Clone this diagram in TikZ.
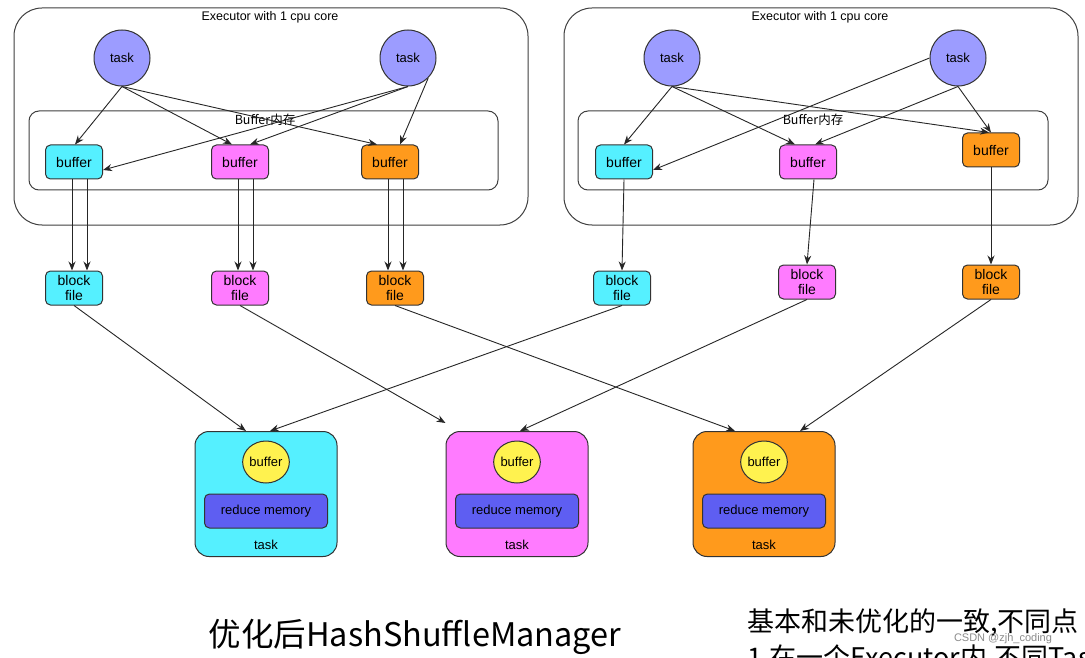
\documentclass[tikz,border=0pt]{standalone}
\usepackage{fontspec}
\setmainfont{Liberation Sans}
\newfontfamily\cjk{Noto Sans CJK SC}
\usetikzlibrary{arrows.meta,positioning,shapes.geometric}
\definecolor{bcyan}{HTML}{55F0FF}
\definecolor{bmag}{HTML}{FF7BFF}
\definecolor{borg}{HTML}{FF9A1C}
\definecolor{tpurple}{HTML}{9C9CFF}
\definecolor{byellow}{HTML}{FFF24F}
\definecolor{rmem}{HTML}{5E5EF2}
\tikzset{
  exec/.style={draw=black!75, rounded corners=28pt, line width=1pt},
  mem/.style={draw=black!75, rounded corners=10pt, line width=1pt},
  task/.style={circle, draw=black!80, fill=tpurple, minimum size=56pt, inner sep=0pt, line width=1pt, font=\fontsize{13}{15}\selectfont},
  buf/.style={draw=black!80, rounded corners=5pt, minimum width=57pt, minimum height=34pt, inner sep=0pt, line width=1pt, font=\fontsize{14}{16}\selectfont},
  blk/.style={buf, align=center, font=\fontsize{14}{15}\selectfont},
  red/.style={draw=black!80, rounded corners=14pt, minimum width=142pt, minimum height=125pt, line width=1pt},
  rbuf/.style={ellipse, draw=black!80, fill=byellow, minimum width=38pt, minimum height=42pt, inner sep=0pt, line width=1pt, font=\fontsize{13}{15}\selectfont},
  rmemory/.style={draw=black!80, fill=rmem, rounded corners=5pt, minimum width=123pt, minimum height=34pt, line width=1pt, font=\fontsize{13}{15}\selectfont},
  arr/.style={-{Stealth[length=9pt,width=7pt]}, line width=0.9pt, black!85},
}
\begin{document}
\begin{tikzpicture}[x=1pt,y=-1pt]
\clip (0,0) rectangle (1085,658);
\fill[white] (0,0) rectangle (1085,658);

% left executor
\draw[exec] (14,8) rectangle (528,225);
\node[font=\fontsize{12.5}{14}\selectfont] (ltitle) at (270,17) {Executor with 1 cpu core};
\draw[mem] (29,111) rectangle (498,190);
\node[font=\fontsize{12.5}{14}\selectfont\cjk] (lmem) at (265,120) {Buffer内存};
\node[task] (lt1) at (122,58) {task};
\node[task] (lt2) at (408,58) {task};
\node[buf, fill=bcyan] (lb1) at (74,162) {buffer};
\node[buf, fill=bmag] (lb2) at (240,162) {buffer};
\node[buf, fill=borg] (lb3) at (390,162) {buffer};
\node[blk, fill=bcyan] (lf1) at (74,288) {block\\file};
\node[blk, fill=bmag] (lf2) at (240,288) {block\\file};
\node[blk, fill=borg] (lf3) at (395,288) {block\\file};

% right executor
\draw[exec] (564,8) rectangle (1078,225);
\node[font=\fontsize{12.5}{14}\selectfont] (rtitle) at (820,17) {Executor with 1 cpu core};
\draw[mem] (578,111) rectangle (1048,190);
\node[font=\fontsize{12.5}{14}\selectfont\cjk] (rmem) at (813,120) {Buffer内存};
\node[task] (rt1) at (672,58) {task};
\node[task] (rt2) at (958,58) {task};
\node[buf, fill=bcyan] (rb1) at (624,162) {buffer};
\node[buf, fill=bmag] (rb2) at (808,162) {buffer};
\node[buf, fill=borg] (rb3) at (991,150) {buffer};
\node[blk, fill=bcyan] (rf1) at (622,288) {block\\file};
\node[blk, fill=bmag] (rf2) at (807,282) {block\\file};
\node[blk, fill=borg] (rf3) at (991,282) {block\\file};

% reduce tasks
\foreach \n/\x/\c in {r1/266/bcyan, r2/517/bmag, r3/764/borg}{
  \node[red, fill=\c] (\n) at (\x,494) {};
  \node[rbuf] (\n b) at (\x,462) {buffer};
  \node[rmemory] (\n m) at (\x,511) {reduce memory};
  \node[font=\fontsize{13}{15}\selectfont] (\n t) at (\x,545) {task};
}

% tasks to buffers
\draw[arr] (lt1.south) -- ([xshift=1pt]lb1.north);
\draw[arr] (lt1.south) -- ([xshift=-8pt]lb2.north);
\draw[arr] (lt1.south) -- ([xshift=-13pt]lb3.north);
\draw[arr] (lt2.south) -- ([yshift=-8pt]lb1.east);
\draw[arr] (lt2.south) -- ([xshift=10pt]lb2.north);
\draw[arr] (lt2.south east) -- ([xshift=10pt]lb3.north);
\draw[arr] (rt1.south) -- (rb1.north);
\draw[arr] (rt1.south) -- ([xshift=-13pt]rb2.north);
\draw[arr] (rt1.south) -- ([xshift=-2pt]rb3.north);
\draw[arr] (rt2.west) -- ([yshift=-8pt]rb1.east);
\draw[arr] (rt2.south) -- ([xshift=7pt]rb2.north);
\draw[arr] (rt2.south) -- (rb3.north);

% buffers to block files
\foreach \a/\b in {lb1/lf1, lb2/lf2, lb3/lf3}{
  \draw[arr] ([xshift=-2pt]\a.south) -- ([xshift=-2pt]\b.north -| \a.south);
  \draw[arr] ([xshift=13pt]\a.south) -- ([xshift=13pt]\b.north -| \a.south);
}
\draw[arr] (rb1.south) -- (rf1.north);
\draw[arr] ([xshift=6pt]rb2.south) -- (rf2.north);
\draw[arr] (rb3.south) -- (rf3.north);

% block files to reduce tasks
\draw[arr] (lf1.south) -- ([xshift=-20pt]r1.north);
\draw[arr] (rf1.south) -- ([xshift=4pt]r1.north);
\draw[arr] (lf2.south) -- ([yshift=8pt]r2.north west);
\draw[arr] (rf2.south) -- ([xshift=3pt]r2.north);
\draw[arr] (lf3.south) -- ([xshift=-29pt]r3.north);
\draw[arr] (rf3.south) -- ([xshift=36pt]r3.north);

% captions
\node[font=\fontsize{32.5}{36}\selectfont\cjk] (cap) at (415,637) {优化后HashShuffleManager};
\node[font=\fontsize{27}{36}\selectfont\cjk, anchor=base west, align=left, inner sep=0pt] (note) at (747,667) {基本和未优化的一致,不同点\\1.在一个Executor内,不同Task};
\node[font=\fontsize{11}{12}\selectfont, text=black!45] (mark) at (1003,639) {CSDN @zjh\_coding};
\end{tikzpicture}
\end{document}
